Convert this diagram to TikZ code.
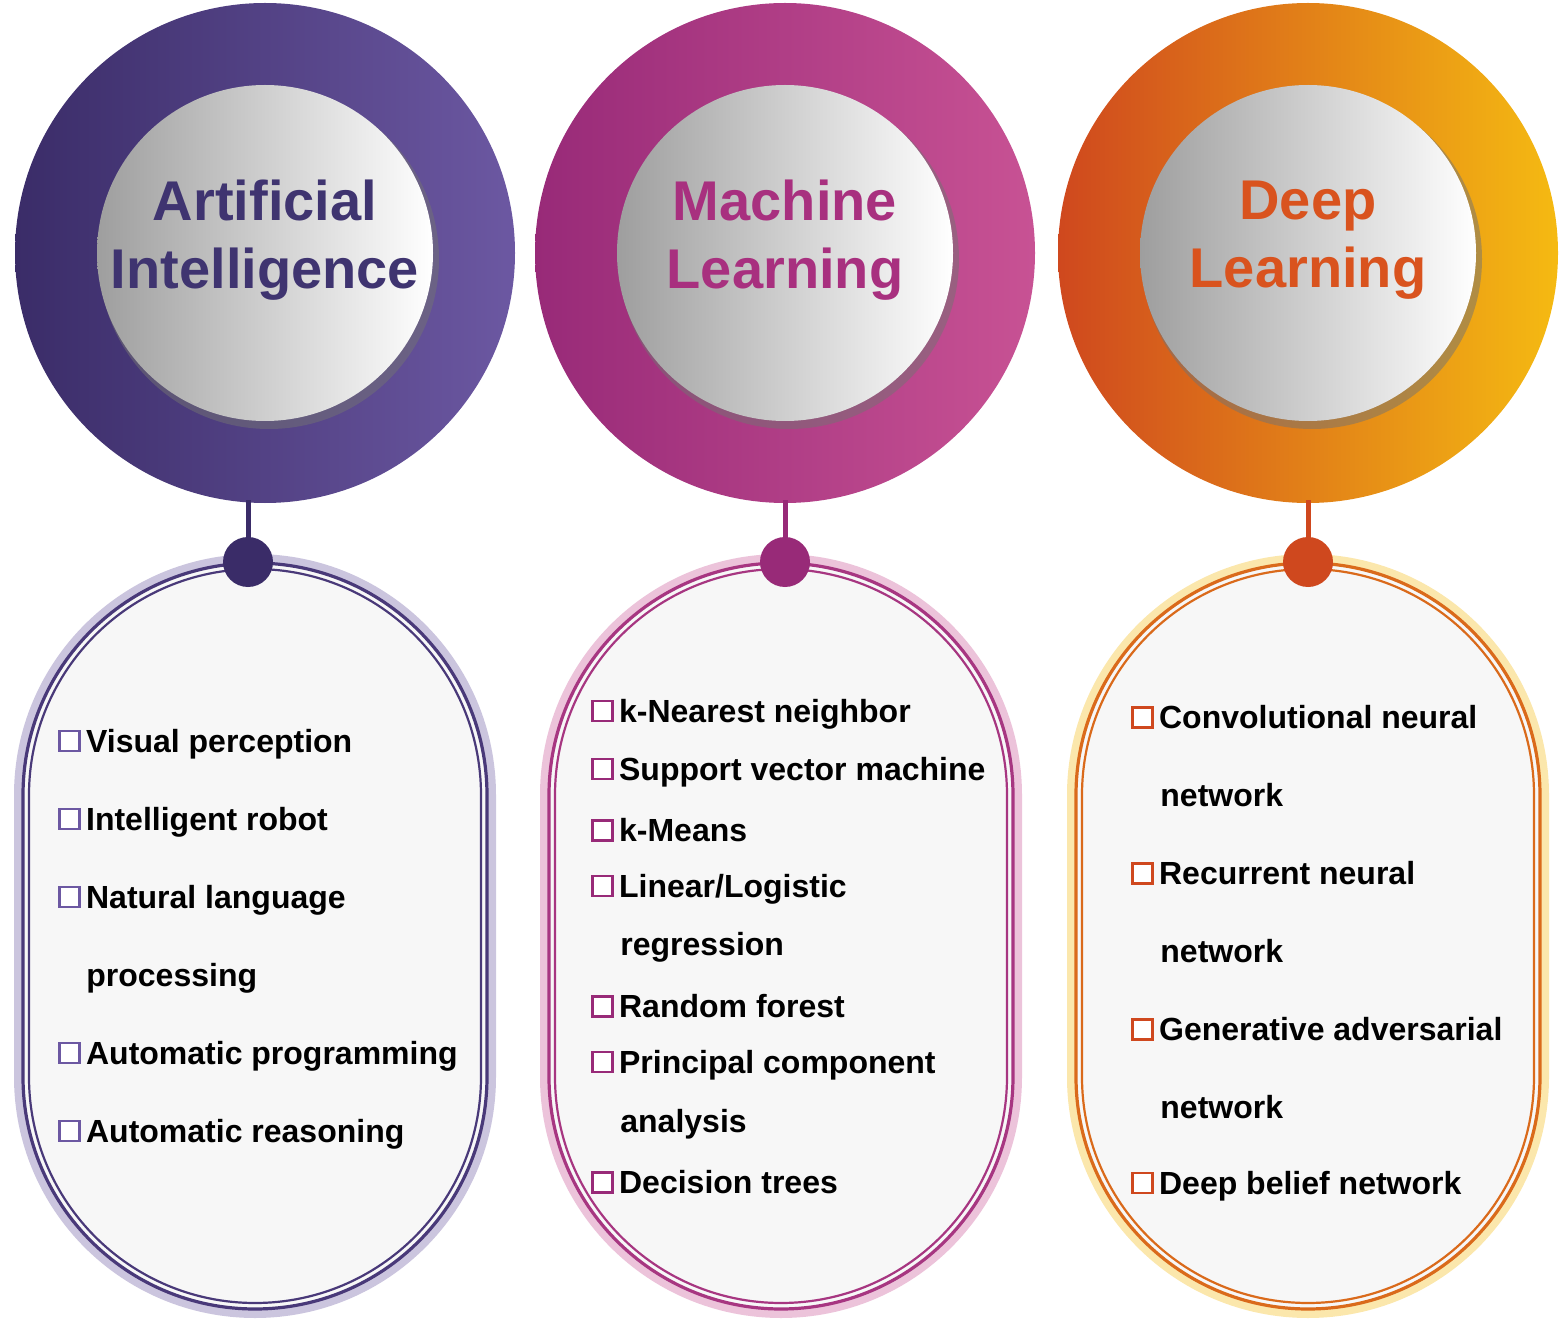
\documentclass[tikz,border=0pt]{standalone}
\usepackage{fontspec}
\setmainfont{Liberation Sans}
\definecolor{aiA}{HTML}{3A2C68}\definecolor{aiB}{HTML}{6C58A2}\definecolor{aiT}{HTML}{3F3470}
\definecolor{mlA}{HTML}{982A78}\definecolor{mlB}{HTML}{C85294}\definecolor{mlT}{HTML}{A8307F}
\definecolor{dlA}{HTML}{CF481E}\definecolor{dlB}{HTML}{F5BA12}\definecolor{dlT}{HTML}{D9531E}
\tikzset{
 title/.style={font=\bfseries\fontsize{28}{34}\selectfont, align=center},
 item/.style={font=\bfseries\fontsize{16}{19}\selectfont, anchor=west, inner sep=0},
}
\begin{document}
\begin{tikzpicture}[x=0.5pt,y=-0.5pt]
\useasboundingbox (0,0) rectangle (1565,1337);
\foreach \cx/\px/\lx/\ca/\cb/\ct/\nm/\la/\lb in {265/255/248/aiA/aiB/aiT/ai/Artificial/Intelligence,785/781/785/mlA/mlB/mlT/ml/Machine/Learning,1308/1308/1308/dlA/dlB/dlT/dl/Deep/Learning}{
 % pill
 \fill[\cb!20,rounded corners=120pt] (\px-240,555) rectangle (\px+240,1317);
 \draw[\cb!35,line width=5pt,rounded corners=118pt] (\px-236,559) rectangle (\px+236,1313);
 \draw[\ca!70!\cb,line width=1.6pt,fill=black!3,rounded corners=116pt] (\px-232,563) rectangle (\px+232,1309);
 \draw[\ca!70!\cb,line width=1.1pt,rounded corners=113pt] (\px-226,569) rectangle (\px+226,1303);
 % circles
 \node[circle,minimum size=250pt,left color=\ca,right color=\cb,draw=none] (\nm o) at (\cx,253) {};
 \coordinate (\nm d) at (\lx,562);
 \draw[\ca,line width=2.5pt] (\lx,500) -- (\nm d);
 \fill[\ca] (\nm d) circle (25);
 \fill[black!55,opacity=0.5] (\cx+4,259) circle (170);
 \node[circle,minimum size=168pt,left color=black!38,right color=white,draw=none] (\nm i) at (\cx,253) {};
 \node[title,text=\ct] (\nm t) at (\cx,240) {\la\\\lb};
}
\newcommand{\bx}[1]{\tikz[baseline=-0.5pt]\draw[#1,line width=1.2pt,fill=white] (0,0) rectangle (10pt,10pt);}
\foreach \y/\t [count=\i] in {744/Visual perception,822/Intelligent robot,900/Natural language,1056/Automatic programming,1134/Automatic reasoning}{
 \node[item] (a\i) at (58,\y) {\bx{aiB}\,\t};}
\node[item] (a0) at (86,978) {processing};
\foreach \y/\t [count=\i] in {714/k-Nearest neighbor,772/Support vector machine,830/k-Means,889/{Linear/Logistic},1006/Random forest,1065/Principal component,1182/Decision trees}{
 \node[item] (m\i) at (591,\y) {\bx{mlA}\,\t};}
\node[item] (m8) at (620,947) {regression};
\node[item] (m9) at (620,1124) {analysis};
\foreach \y/\t [count=\i] in {717/Convolutional neural,873/Recurrent neural,1029/Generative adversarial,1186/Deep belief network}{
 \node[item] (d\i) at (1131,\y) {\bx{dlA}\,\t};}
\foreach \y [count=\i] in {795,951,1107}{\node[item] (dn\i) at (1160,\y) {network};}
\end{tikzpicture}
\end{document}
